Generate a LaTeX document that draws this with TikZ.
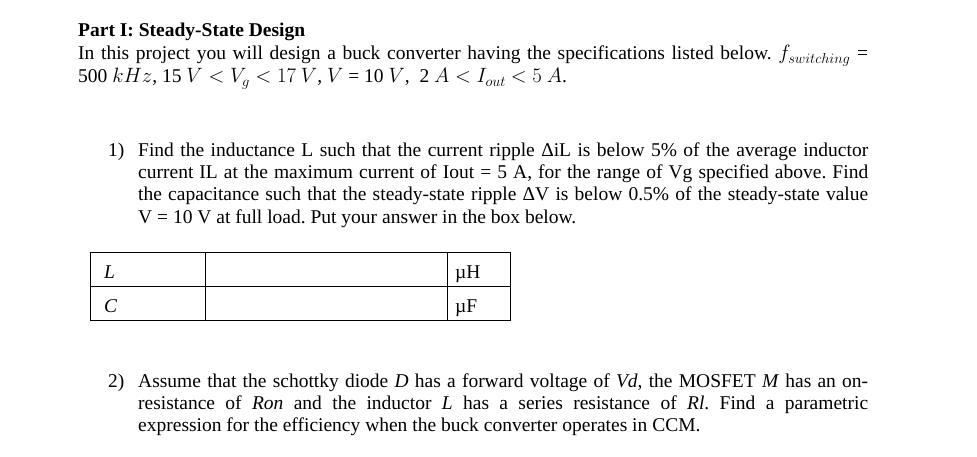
\documentclass[tikz,border=0pt]{standalone}
\usepackage{fontspec}
\setmainfont{Liberation Serif}
\frenchspacing
\begin{document}
\begin{tikzpicture}[x=1pt,y=-1pt,
  txt/.style={anchor=base west,inner sep=0pt,font=\fontsize{19.5}{22}\selectfont},
  cell/.style={draw=black,line width=0.8pt}]
\useasboundingbox (0,0) rectangle (977,457);
\node[txt,font=\fontsize{19.5}{22}\selectfont\bfseries] (t) at (78,37) {Part I: Steady-State Design};
\node[txt] (l1) at (78,60) {\makebox[790pt][s]{In this project you will design a buck converter having the specifications listed below. $f_{switching}$ =}};
\node[txt] (l2) at (78,83) {500 $kHz$, 15 $V < V_g < 17$ $V$, $V$ = 10 $V$,\ \ 2 $A < I_{out}$ $< 5$ $A$.};
\node[txt] (n1) at (108,157) {1)};
\node[txt] (a1) at (138,157) {\makebox[730pt][s]{Find the inductance L such that the current ripple ΔiL is below 5\% of the average inductor}};
\node[txt] (a2) at (138,179) {\makebox[730pt][s]{current IL at the maximum current of Iout = 5 A, for the range of Vg specified above. Find}};
\node[txt] (a3) at (138,201) {\makebox[730pt][s]{the capacitance such that the steady-state ripple ΔV is below 0.5\% of the steady-state value}};
\node[txt] (a4) at (138,223) {V = 10 V at full load. Put your answer in the box below.};
\draw[cell] (90,252) rectangle (510,320);
\draw[cell] (90,286) -- (510,286);
\draw[cell] (205,252) -- (205,320);
\draw[cell] (447,252) -- (447,320);
\node[txt] (L) at (104,278) {\textit{L}};
\node[txt] (C) at (104,312) {\textit{C}};
\node[txt] (uH) at (455,278) {µH};
\node[txt] (uF) at (455,312) {µF};
\node[txt] (n2) at (108,387) {2)};
\node[txt] (b1) at (138,387) {\makebox[730pt][s]{Assume that the schottky diode \textit{D} has a forward voltage of \textit{Vd}, the MOSFET \textit{M} has an on-}};
\node[txt] (b2) at (138,409) {\makebox[730pt][s]{resistance of \textit{Ron} and the inductor \textit{L} has a series resistance of \textit{Rl}. Find a parametric}};
\node[txt] (b3) at (138,431) {expression for the efficiency when the buck converter operates in CCM.};
\end{tikzpicture}
\end{document}
